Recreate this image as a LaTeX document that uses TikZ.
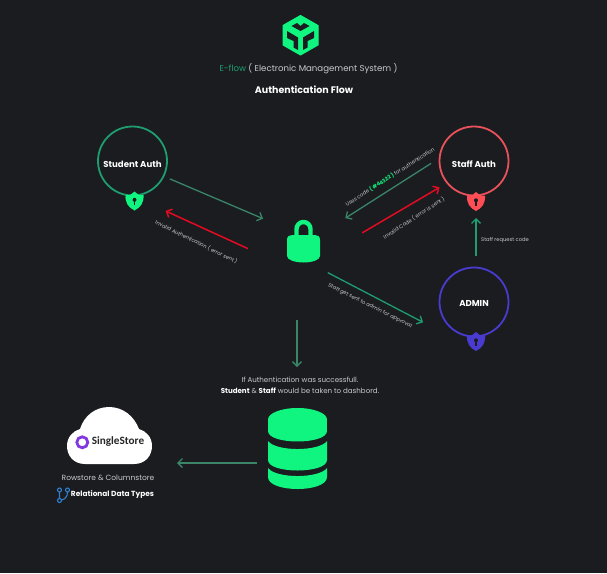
\documentclass[tikz,border=0pt]{standalone}
\usepackage{fontspec}
\setmainfont{Poppins}
\newfontfamily\logofont{Carlito}
\usetikzlibrary{arrows.meta}
\definecolor{bgdark}{HTML}{1A1C20}
\definecolor{neon}{HTML}{10F57F}
\definecolor{studentring}{HTML}{1F9D6F}
\definecolor{flowgreen}{HTML}{3A8468}
\definecolor{brightflow}{HTML}{1F9D6F}
\definecolor{errorred}{HTML}{E30B22}
\definecolor{staffred}{HTML}{E9525A}
\definecolor{shieldred}{HTML}{FF4D55}
\definecolor{adminblue}{HTML}{4A3BD0}
\definecolor{labelgrey}{HTML}{C9CACC}
\definecolor{ringpurple}{HTML}{8238E0}
\definecolor{branchblue}{HTML}{2F80D0}

\begin{document}
\begin{tikzpicture}[x=1pt,y=-1pt,>={Straight Barb[length=4.5pt,width=9pt]},
auth node/.style={circle,draw,line width=1.8pt,minimum size=69pt,inner sep=0pt,text=white,font=\fontsize{8.6}{10}\selectfont\bfseries},
box node/.style={inner sep=0pt,outer sep=0pt},
flow/.style={->,flowgreen,line width=1.3pt},
bright flow/.style={->,brightflow,line width=1.3pt},
error flow/.style={->,errorred,line width=1.5pt},
small label/.style={text=labelgrey,inner sep=0pt,font=\fontsize{5.2}{6}\selectfont}]

\fill[bgdark] (0,0) rectangle (607,573);
\useasboundingbox (0,0) rectangle (607,573);

% logo
\fill[neon,line join=round,draw=neon,line width=1pt] (300.5,15.5) -- (318,25.5) -- (318,45) -- (300.5,55) -- (283,45) -- (283,25.5) -- cycle;
\fill[bgdark] (291.5,26) -- (297,23) -- (300.5,26) -- (304,23) -- (309.5,26) -- (300.5,31) -- cycle;
\fill[bgdark] (287,31) -- (298,37.5) -- (298,50) -- (293.5,47.5) -- (293.5,41) -- (287,38) -- cycle;
\fill[bgdark] (314,31) -- (303,37.5) -- (303,50) -- (307.5,47.5) -- (307.5,41) -- (314,38) -- cycle;

% titles
\node[inner sep=0pt,text=labelgrey,font=\fontsize{8.6}{10}\selectfont] (subtitle) at (308.5,69) {\textcolor{brightflow}{E-flow} ( Electronic Management System )};
\node[inner sep=0pt,text=white,font=\fontsize{9.5}{11}\selectfont\bfseries] (title) at (304,90) {Authentication Flow};

% auth circles
\node[auth node,draw=studentring] (student) at (132.5,161) {\raisebox{-6pt}[0pt][0pt]{Student Auth}};
\node[auth node,draw=staffred] (staff) at (474,161) {\raisebox{-6pt}[0pt][0pt]{Staff Auth}};
\node[auth node,draw=adminblue] (admin) at (474,302) {\raisebox{-4.3pt}[0pt][0pt]{ADMIN}};

% shields
\foreach \name/\col/\px/\py in {studentshield/neon/134.5/201,staffshield/shieldred/476/201.5,adminshield/adminblue/476/341.5}{
	\node[box node,minimum width=19pt,minimum height=19pt] (\name) at (\px,\py) {};
	\begin{scope}[shift={(\px,\py)}]
		\fill[\col] (-9,-6) .. controls (-5,-5) and (-2,-7) .. (0,-9.5) .. controls (2,-7) and (5,-5) .. (9,-6) .. controls (9.5,2) and (6,6.5) .. (0,9.5) .. controls (-6,6.5) and (-9.5,2) .. (-9,-6) -- cycle;
		\fill[bgdark] (0,-1.2) circle (2pt);
		\fill[bgdark] (-0.9,-1) rectangle (0.9,4);
	\end{scope}
}

% lock
\node[box node,minimum width=33pt,minimum height=44pt] (lock) at (303.5,240) {};
\draw[neon,line width=4.4pt] (296.5,238) -- (296.5,229) arc[start angle=180,end angle=0,radius=7pt] -- (310.5,238);
\fill[neon] (287,240) .. controls (287,236.5) and (289,235) .. (292,235) -- (315,235) .. controls (318,235) and (320,236.5) .. (320,240) -- (320,256) .. controls (320,260) and (312,262.5) .. (303.5,262.5) .. controls (295,262.5) and (287,260) .. (287,256) -- cycle;

% database
\node[box node,minimum width=59pt,minimum height=81pt] (db) at (297.5,448.5) {};
\fill[neon] (297.5,419.5) ellipse[x radius=29.5pt,y radius=11.5pt];
\fill[neon] (268,419.5) rectangle (327,431);
\fill[neon] (327,431) .. controls (327,445) and (268,445) .. (268,431) -- cycle;
\fill[neon] (268,441) .. controls (276,451.7) and (319,451.7) .. (327,441) -- (327,460) .. controls (327,474) and (268,474) .. (268,460) -- cycle;
\fill[neon] (268,468) .. controls (276,478.7) and (319,478.7) .. (327,468) -- (327,477) .. controls (327,493) and (268,493) .. (268,477) -- cycle;

% cloud
\node[box node,minimum width=85pt,minimum height=57pt] (cloud) at (109.5,435.5) {};
\fill[white] (85,464) .. controls (73,464) and (67,455) .. (67,446) .. controls (67,437) and (73,431) .. (80,429) .. controls (84,416) and (95,407) .. (109,407) .. controls (123,407) and (134,416) .. (139,429) .. controls (146,431) and (152,437) .. (152,446) .. controls (152,455) and (146,464) .. (134,464) -- cycle;
\draw[ringpurple,line width=2.8pt] (82.3,442.3) circle (5.5pt);
\node[inner sep=0pt,text=black!85,font=\logofont\bfseries\fontsize{11.2}{14}\selectfont] (singlestore) at (118,442) {SingleStore};

% store labels
\node[inner sep=0pt,text=labelgrey,font=\fontsize{7.5}{9}\selectfont] (rowstore) at (108,478) {Rowstore \& Columnstore};
\node[inner sep=0pt,text=white,font=\fontsize{7.4}{9}\selectfont\bfseries] (relational) at (112.5,495) {Relational Data Types};
\draw[branchblue,line width=1.1pt] (59.5,490) circle (2pt) (67.5,490) circle (2pt) (59.5,500.5) circle (2pt);
\draw[branchblue,line width=1.1pt] (59.5,492) -- (59.5,498.5) (67.5,492) .. controls (67.5,497) and (65,499) .. (61.5,500);

% message under the lock
\node[inner sep=0pt,text=labelgrey,align=center,font=\fontsize{7.1}{11}\selectfont] (success) at (300,385.5) {If Authentication was successfull.\\\textcolor{white}{\bfseries Student} \& \textcolor{white}{\bfseries Staff} would be taken to dashbord.};

% arrows
\draw[flow,shorten <=6pt,shorten >=26pt] (student.-26) -- (lock.146);
\draw[error flow,shorten <=43pt,shorten >=35pt] ([shift={(0,4.5)}]lock.south west) -- (student.-88);
\draw[flow,shorten <=9pt,shorten >=30pt] (staff.176) -- (lock.19);
\draw[error flow,shorten <=49pt,shorten >=8pt] (lock.-47) -- (staff.219);
\draw[bright flow,shorten <=10.5pt,shorten >=7pt] ([xshift=2pt]admin.north) -- (staffshield.south);
\draw[bright flow,shorten <=23pt,shorten >=49pt] (lock.-80) -- (adminshield.200);
\draw[flow,shorten <=58pt,shorten >=10pt] ([xshift=-6.5pt]lock.south) -- ([xshift=-3pt]success.north);
\draw[flow,shorten <=11pt,shorten >=25pt] ([shift={(0,14.5)}]db.west) -- ([shift={(0,-1)}]cloud.south east);

% arrow labels
\node[small label,rotate=-26] (invalidauth) at (196.5,242) {Invalid Authentication ( error sent )};
\node[small label,rotate=32.5] (usescode) at (390,177) {Uses code {\color{neon}\bfseries( \#44322 )} for authentication};
\node[small label,rotate=33] (invalidcode) at (414,218) {Invalid Code ( error is sent )};
\node[small label,anchor=west] (staffrequest) at (481,240) {Staff request code};
\node[small label,rotate=-26.5] (staffsent) at (370,306) {Staff get sent to admin for approval};

\end{tikzpicture}
\end{document}
